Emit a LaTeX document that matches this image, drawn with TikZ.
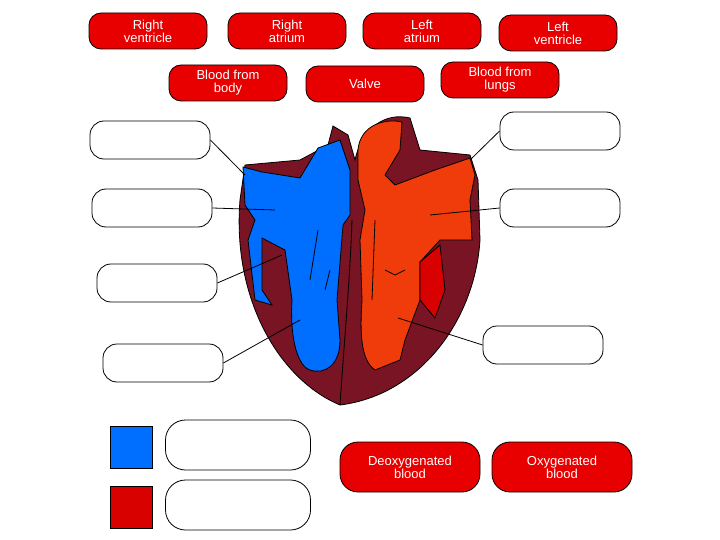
\documentclass[tikz,border=0pt]{standalone}
\usepackage{fontspec}
\setmainfont{Liberation Sans}
\definecolor{lbred}{RGB}{232,0,0}
\definecolor{hblue}{RGB}{0,110,255}
\definecolor{hred}{RGB}{240,60,10}
\definecolor{maroon}{RGB}{120,20,35}
\begin{document}
\begin{tikzpicture}[x=1pt,y=-1pt,
 lab/.style={draw=black,thick,fill=lbred,rounded corners=12pt,minimum width=118pt,minimum height=36pt,text=white,font=\fontsize{13}{13}\selectfont,align=center,inner sep=1pt},
 blank/.style={draw=black,thick,fill=white,rounded corners=14pt,minimum width=120pt,minimum height=38pt},
 lead/.style={draw=black,thick}]
\useasboundingbox (0,0) rectangle (720,540);
\node[lab] (rv) at (148,31) {Right\\ventricle};
\node[lab] (ra) at (287,31) {Right\\atrium};
\node[lab] (la) at (422,31) {Left\\atrium};
\node[lab] (lv) at (558,33) {Left\\ventricle};
\node[lab] (bb) at (228,83) {Blood from\\body};
\node[lab] (va) at (365,84) {Valve};
\node[lab] (bl) at (500,80) {Blood from\\lungs};
\node[lab,minimum width=140pt,minimum height=50pt,rounded corners=18pt] (de) at (410,467) {Deoxygenated\\blood};
\node[lab,minimum width=140pt,minimum height=50pt,rounded corners=18pt] (ox) at (562,467) {Oxygenated\\blood};
% heart
\fill[maroon,draw=black,thick] (240,200) .. controls (232,300) and (280,380) .. (340,405) .. controls (420,395) and (475,320) .. (480,240) -- (478,180) -- (470,155) -- (420,150) -- (410,118) .. controls (385,112) and (362,128) .. (355,160) -- (348,135) -- (333,126) -- (328,145) -- (300,160) -- (245,165) -- cycle;
\draw[black,thick] (340,405) .. controls (345,330) and (350,280) .. (352,220);
\fill[hblue,draw=black,thick] (243,167) -- (262,172) -- (300,178) -- (318,148) -- (340,140) -- (350,170) -- (350,215) -- (343,225) -- (337,300) -- (340,340) .. controls (340,365) and (325,375) .. (310,370) .. controls (295,365) and (290,330) .. (292,300) -- (285,250) -- (262,238) -- (262,290) -- (272,305) -- (255,300) -- (248,240) -- (255,220) -- (245,205) -- cycle;
\fill[hred,draw=black,thick] (358,150) .. controls (360,125) and (385,118) .. (402,122) -- (400,150) -- (385,175) -- (395,185) -- (435,170) -- (470,158) -- (475,175) -- (470,200) -- (472,240) -- (440,240) -- (420,262) -- (420,300) -- (405,340) -- (400,360) -- (375,370) .. controls (360,360) and (360,330) .. (362,300) -- (360,240) -- (365,210) -- (358,180) -- cycle;
\fill[red!85!black,draw=black,thick] (420,262) -- (440,245) -- (445,290) -- (435,318) -- (420,300) -- cycle;
\draw[thick] (318,230) -- (310,280) (325,290) -- (330,270) (385,270) -- (395,275) -- (405,270) (375,220) -- (372,300);
% blanks
\node[blank] (b1) at (150,140) {};
\node[blank] (b2) at (152,208) {};
\node[blank] (b3) at (157,283) {};
\node[blank] (b4) at (163,363) {};
\node[blank] (b5) at (560,131) {};
\node[blank] (b6) at (560,208) {};
\node[blank] (b7) at (543,345) {};
\node[blank,minimum width=145pt,minimum height=50pt,rounded corners=20pt] (b8) at (238,445) {};
\node[blank,minimum width=145pt,minimum height=50pt,rounded corners=20pt] (b9) at (238,505) {};
\node[draw=black,thick,fill=hblue,minimum size=42pt,inner sep=0pt] (sq1) at (131,447) {};
\node[draw=black,thick,fill=red!85!black,minimum size=42pt,inner sep=0pt] (sq2) at (131,507) {};
% leaders
\coordinate (c1) at (245,175); \coordinate (c2) at (275,210);
\coordinate (c3) at (282,255); \coordinate (c4) at (300,320);
\coordinate (c5) at (470,160); \coordinate (c6) at (430,215);
\coordinate (c7) at (398,318);
\draw[lead] (b1.east) -- (c1); \draw[lead] (b2.east) -- (c2);
\draw[lead] (b3.east) -- (c3); \draw[lead] (b4.east) -- (c4);
\draw[lead] (b5.west) -- (c5); \draw[lead] (b6.west) -- (c6);
\draw[lead] (b7.west) -- (c7);
\end{tikzpicture}
\end{document}
